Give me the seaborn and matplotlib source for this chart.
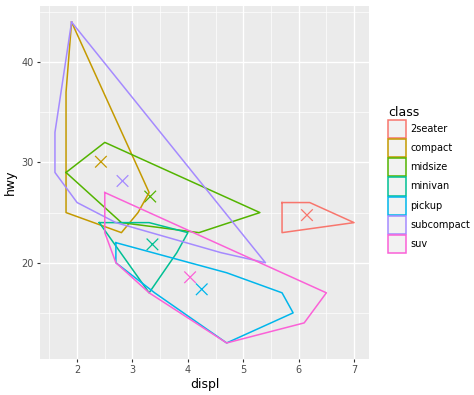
import numpy as np
import pandas as pd
import matplotlib
matplotlib.use("Agg")
import matplotlib.pyplot as plt
import seaborn as sns
from matplotlib.patches import Patch

# class names and ggplot default hue colours
classes = ["2seater", "compact", "midsize", "minivan", "pickup", "subcompact", "suv"]
colors = ["#F8766D", "#C49A00", "#53B400", "#00C094", "#00B6EB", "#A58AFF", "#FB61D7"]

# hull vertices per class (displ, hwy)
seater_displ = [5.7, 6.2, 7.0, 5.7]
seater_hwy = [26, 26, 24, 23]
compact_displ = [1.9, 3.3, 3.1, 2.8, 1.8, 1.8]
compact_hwy = [44, 27, 25, 23, 25, 37]
midsize_displ = [1.8, 2.5, 5.3, 4.2, 2.8]
midsize_hwy = [29, 32, 25, 23, 24]
minivan_displ = [2.4, 3.3, 4.0, 3.8, 3.3]
minivan_hwy = [24, 24, 23, 21, 17]
pickup_displ = [2.7, 4.7, 5.7, 5.9, 4.7, 3.4, 2.7]
pickup_hwy = [22, 19, 17, 15, 12, 17, 20]
subcompact_displ = [1.9, 5.4, 4.6, 2.7, 2.0, 1.6, 1.6]
subcompact_hwy = [44, 20, 21, 24, 26, 29, 33]
suv_displ = [2.5, 6.5, 6.1, 4.7, 3.3, 2.7, 2.5]
suv_hwy = [27, 17, 14, 12, 17, 20, 23]

# centre markers
centre_displ = [6.15, 2.43, 3.32, 3.36, 4.25, 2.82, 4.04]
centre_hwy = [24.75, 30.07, 26.6, 21.83, 17.35, 28.15, 18.55]

x_ticks = [2, 3, 4, 5, 6, 7]
y_ticks = [20, 30, 40]

# build a closed polygon table for lineplot
hull_sets = [(seater_displ, seater_hwy), (compact_displ, compact_hwy),
             (midsize_displ, midsize_hwy), (minivan_displ, minivan_hwy),
             (pickup_displ, pickup_hwy), (subcompact_displ, subcompact_hwy),
             (suv_displ, suv_hwy)]
rows = []
for cls, (xs, ys) in zip(classes, hull_sets):
    for i in range(len(xs) + 1):
        rows.append({"class": cls, "displ": xs[i % len(xs)], "hwy": ys[i % len(ys)]})
hulls = pd.DataFrame(rows)
centres = pd.DataFrame({"class": classes, "displ": centre_displ, "hwy": centre_hwy})
palette = dict(zip(classes, colors))

fig = plt.figure(figsize=(4.74, 3.95), dpi=100)
ax = fig.add_axes([40 / 474, 1 - 359 / 395, 329 / 474, 353 / 395])
ax.set_facecolor("#EBEBEB")

ax.set_xlim(1.33, 7.27)
ax.set_ylim(10.4, 45.6)
ax.set_xticks(x_ticks)
ax.set_yticks(y_ticks)
ax.set_xticks(np.arange(1.5, 7.0, 1.0), minor=True)
ax.set_yticks([15, 25, 35, 45], minor=True)
ax.grid(which="major", color="white", linewidth=1.0)
ax.grid(which="minor", color="white", linewidth=0.5)
ax.set_axisbelow(True)
for s in ax.spines.values():
    s.set_visible(False)
ax.tick_params(which="major", length=2.5, width=0.8, color="#333333",
               labelcolor="#4D4D4D", labelsize=7, pad=2)
ax.tick_params(which="minor", length=0)

sns.lineplot(data=hulls, x="displ", y="hwy", hue="class", palette=palette,
             sort=False, estimator=None, linewidth=1.1, legend=False, ax=ax)
sns.scatterplot(data=centres, x="displ", y="hwy", hue="class", palette=palette,
                marker="x", s=70, linewidth=0.9, legend=False, ax=ax)

ax.set_xlabel("displ", fontsize=9, labelpad=2)
ax.set_ylabel("hwy", fontsize=9, labelpad=3)

handles = [Patch(facecolor="#F2F2F2", edgecolor=c, linewidth=1.1) for c in colors]
leg = fig.legend(handles, classes, title="class", loc="upper left",
                 bbox_to_anchor=(388 / 474, 1 - 106 / 395), frameon=False,
                 fontsize=7, title_fontsize=9, handlelength=1.9, handleheight=2.5,
                 labelspacing=0.1, handletextpad=0.4, borderpad=0, borderaxespad=0)
leg._legend_box.align = "left"

fig.savefig("out.png", dpi=100)
